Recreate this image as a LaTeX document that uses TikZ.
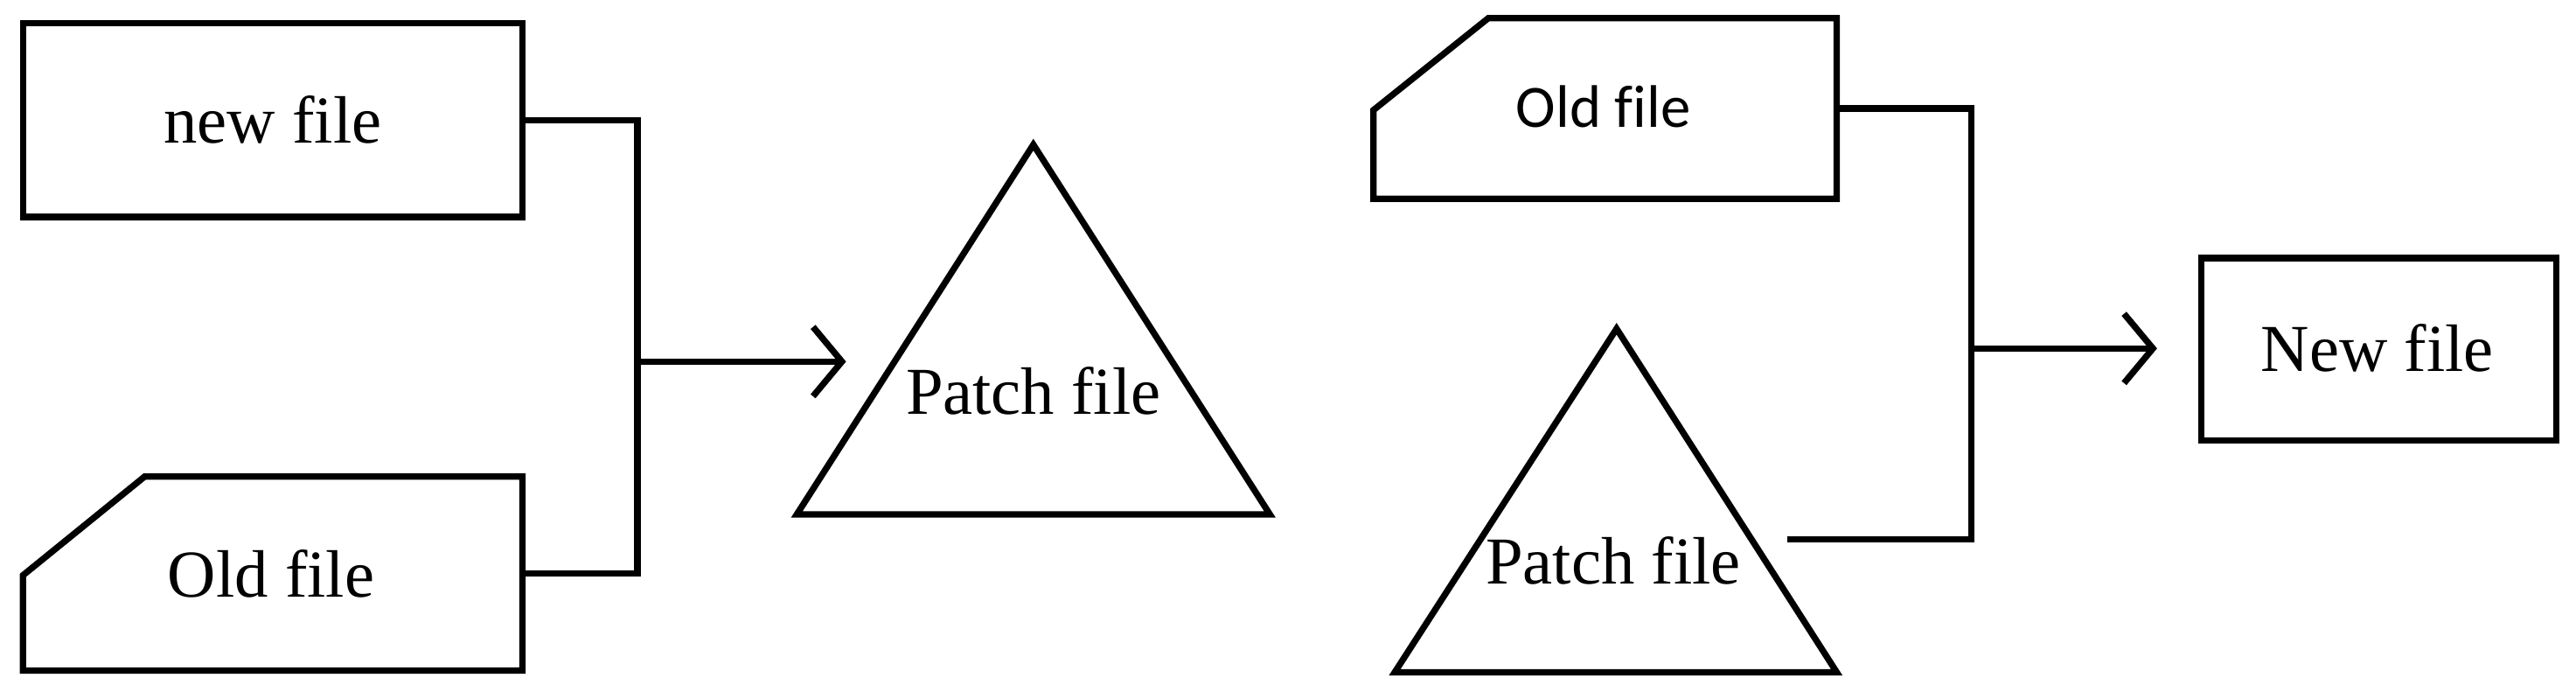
\documentclass[tikz,border=0pt]{standalone}
\usepackage{fontspec}
\setmainfont{Liberation Serif}
\newfontfamily\calib[Ligatures=NoCommon]{Carlito}
\usetikzlibrary{arrows.meta}
\begin{document}
\begin{tikzpicture}[x=0.01cm,y=-0.01cm,line width=1.1pt,
  shp/.style={draw,line join=miter},
  lbl/.style={font=\fontsize{11.6}{14}\selectfont},
  lbls/.style={font=\calib\fontsize{10.4}{12}\selectfont},
  conn/.style={draw},
  arr/.style={draw,-{Straight Barb[length=5pt,width=12pt]}}]
\useasboundingbox (0,0) rectangle (1568,425);
% left
\draw[shp] (14,14) rectangle (318,132);
\node[lbl] (nf) at (166,73) {new file};
\draw[shp] (14,350) -- (88,290) -- (318,290) -- (318,408) -- (14,408) -- cycle;
\node[lbl] (of1) at (165,349) {Old file};
\coordinate (nfE) at (318,73);
\coordinate (of1E) at (318,349);
\coordinate (j1) at (388,220);
\draw[shp] (629,88) -- (773,313) -- (485,313) -- cycle;
\node[lbl] (pf1) at (629,238) {Patch file};
\coordinate (pf1W) at (515,220);
\draw[conn] (nfE) -- (388,73) -- (388,349) -- (of1E);
\draw[arr] (j1) -- (pf1W);
% right
\draw[shp] (836,67) -- (906,11) -- (1118,11) -- (1118,121) -- (836,121) -- cycle;
\node[lbls] (of2) at (976,65) {Old file};
\draw[shp] (984,200) -- (1118,409) -- (849,409) -- cycle;
\node[lbl] (pf2) at (982,341) {Patch file};
\draw[shp] (1340,157) rectangle (1556,268);
\node[lbl] (nf2) at (1447,212) {New file};
\coordinate (of2E) at (1118,66);
\coordinate (pf2E) at (1088,328);
\coordinate (j2) at (1200,212);
\coordinate (nf2W) at (1313,212);
\draw[conn] (of2E) -- (1200,66) -- (1200,328) -- (pf2E);
\draw[arr] (j2) -- (nf2W);
\end{tikzpicture}
\end{document}
